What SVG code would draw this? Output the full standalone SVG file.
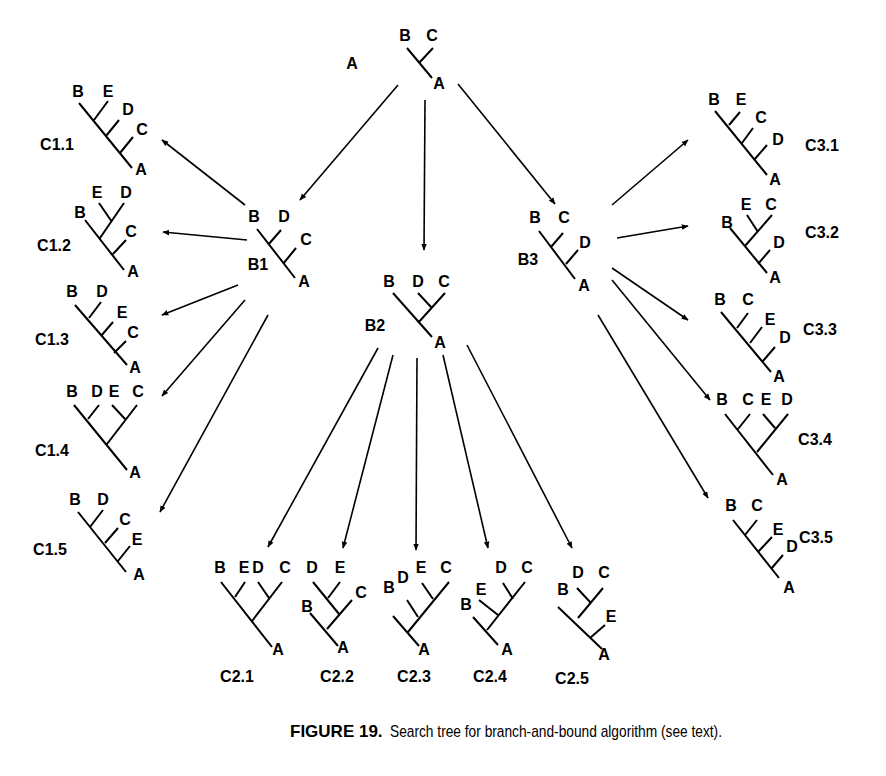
<svg xmlns="http://www.w3.org/2000/svg" width="886" height="776" viewBox="0 0 886 776">
<defs>
<marker id="ah" viewBox="0 0 10 10" refX="9" refY="5" markerWidth="7" markerHeight="7" orient="auto" markerUnits="userSpaceOnUse"><path d="M0,1 L10,5 L0,9 z" fill="#000"/></marker>
<style>
.t{stroke:#000;stroke-width:2;fill:none}
.c{stroke:#000;stroke-width:1.6;fill:none;marker-end:url(#ah)}
text{font-family:"Liberation Sans",Arial,sans-serif;font-size:16px;font-weight:bold;fill:#000;text-anchor:middle}
.cap{font-size:17px;font-weight:normal;text-anchor:start}
</style>
</defs>
<rect width="886" height="776" fill="#fff"/>
<g id="connectors">
<line class="c" x1="398" y1="85" x2="300" y2="200"/>
<line class="c" x1="425" y1="100" x2="424" y2="250"/>
<line class="c" x1="458" y1="84" x2="555" y2="204"/>
<line class="c" x1="245" y1="205" x2="162" y2="140"/>
<line class="c" x1="247" y1="240" x2="163" y2="232"/>
<line class="c" x1="238" y1="285" x2="162" y2="315"/>
<line class="c" x1="245" y1="300" x2="162" y2="396"/>
<line class="c" x1="268" y1="315" x2="160" y2="512"/>
<line class="c" x1="378" y1="348" x2="268" y2="547"/>
<line class="c" x1="393" y1="355" x2="343" y2="548"/>
<line class="c" x1="417" y1="358" x2="416" y2="550"/>
<line class="c" x1="443" y1="355" x2="488" y2="548"/>
<line class="c" x1="467" y1="345" x2="572" y2="548"/>
<line class="c" x1="612" y1="205" x2="688" y2="140"/>
<line class="c" x1="617" y1="238" x2="688" y2="226"/>
<line class="c" x1="612" y1="268" x2="688" y2="320"/>
<line class="c" x1="612" y1="280" x2="710" y2="400"/>
<line class="c" x1="598" y1="315" x2="708" y2="498"/>
</g>
<g id="A">
<text x="352" y="69">A</text>
<text x="405" y="41">B</text><text x="432" y="41">C</text><text x="439" y="89">A</text>
<path class="t" d="M407,48 L432,78 M433,48 L419,63"/>
</g>
<g id="B1">
<text x="254" y="222">B</text><text x="284" y="222">D</text><text x="306" y="245">C</text><text x="304" y="287">A</text><text x="258" y="270">B1</text>
<path class="t" d="M257,229 L295,278 M281,230 L268,245 M296,248 L283,264"/>
</g>
<g id="B2">
<text x="389" y="287">B</text><text x="418" y="287">D</text><text x="444" y="287">C</text><text x="440" y="348">A</text><text x="375" y="331">B2</text>
<path class="t" d="M393,293 L432,337 M418,293 L431,307 M445,293 L418,323"/>
</g>
<g id="B3">
<text x="535" y="223">B</text><text x="564" y="223">C</text><text x="585" y="248">D</text><text x="584" y="291">A</text><text x="528" y="265">B3</text>
<path class="t" d="M539,231 L575,279 M563,233 L551,247 M578,250 L566,264"/>
</g>
<g id="C1.1">
<text x="78" y="97">B</text><text x="108" y="97">E</text><text x="128" y="115">D</text><text x="142" y="135">C</text><text x="141" y="175">A</text><text x="57" y="150">C1.1</text>
<path class="t" d="M79,103 L132,168 M108,101 L94,120 M119,120 L106,136 M133,137 L120,153"/>
</g>
<g id="C1.2">
<text x="97" y="198">E</text><text x="126" y="198">D</text><text x="80" y="218">B</text><text x="131" y="237">C</text><text x="133" y="277">A</text><text x="54" y="251">C1.2</text>
<path class="t" d="M85,220 L124,270 M99,203 L112,222 M124,203 L100,238 M126,240 L113,254"/>
</g>
<g id="C1.3">
<text x="72" y="297">B</text><text x="102" y="297">D</text><text x="122" y="318">E</text><text x="133" y="338">C</text><text x="135" y="373">A</text><text x="52" y="345">C1.3</text>
<path class="t" d="M75,305 L127,365 M101,302 L89,318 M113,322 L101,336 M126,341 L114,353"/>
</g>
<g id="C1.4">
<text x="72" y="397">B</text><text x="97" y="397">D</text><text x="114" y="397">E</text><text x="138" y="397">C</text><text x="135" y="478">A</text><text x="52" y="456">C1.4</text>
<path class="t" d="M74,405 L127,470 M99,405 L88,419 M112,405 L125,419 M137,405 L107,444"/>
</g>
<g id="C1.5">
<text x="75" y="505">B</text><text x="103" y="505">D</text><text x="125" y="525">C</text><text x="137" y="545">E</text><text x="139" y="580">A</text><text x="50" y="555">C1.5</text>
<path class="t" d="M78,512 L126,572 M103,510 L90,527 M118,528 L105,543 M130,546 L118,561"/>
</g>
<g id="C2.1">
<text x="220" y="573">B</text><text x="244" y="573">E</text><text x="258" y="573">D</text><text x="285" y="573">C</text><text x="278" y="655">A</text><text x="237" y="682">C2.1</text>
<path class="t" d="M221,582 L272,647 M245,582 L235,597 M258,582 L269,598 M282,582 L252,621"/>
</g>
<g id="C2.2">
<text x="312" y="573">D</text><text x="340" y="573">E</text><text x="361" y="598">C</text><text x="307" y="612">B</text><text x="343" y="653">A</text><text x="337" y="682">C2.2</text>
<path class="t" d="M313,582 L339,614 M340,582 L328,598 M352,600 L327,629 M310,613 L338,646"/>
</g>
<g id="C2.3">
<text x="421" y="573">E</text><text x="446" y="573">C</text><text x="403" y="583">D</text><text x="389" y="593">B</text><text x="424" y="655">A</text><text x="414" y="682">C2.3</text>
<path class="t" d="M449,582 L408,632 M422,583 L433,599 M407,600 L418,617 M393,616 L419,646"/>
</g>
<g id="C2.4">
<text x="501" y="573">D</text><text x="527" y="573">C</text><text x="481" y="595">E</text><text x="466" y="610">B</text><text x="507" y="655">A</text><text x="490" y="682">C2.4</text>
<path class="t" d="M525,582 L487,630 M503,583 L513,599 M479,600 L498,615 M473,617 L498,645"/>
</g>
<g id="C2.5">
<text x="578" y="578">D</text><text x="604" y="578">C</text><text x="563" y="595">B</text><text x="611" y="622">E</text><text x="604" y="660">A</text><text x="572" y="684">C2.5</text>
<path class="t" d="M558,607 L602,649 M577,588 L590,602 M603,588 L578,618 M605,625 L590,638"/>
</g>
<g id="C3.1">
<text x="714" y="105">B</text><text x="741" y="105">E</text><text x="761" y="123">C</text><text x="778" y="145">D</text><text x="775" y="185">A</text><text x="822" y="151">C3.1</text>
<path class="t" d="M715,111 L767,175 M740,112 L729,125 M753,128 L742,143 M767,145 L754,160"/>
</g>
<g id="C3.2">
<text x="746" y="210">E</text><text x="771" y="210">C</text><text x="727" y="228">B</text><text x="779" y="248">D</text><text x="775" y="283">A</text><text x="822" y="238">C3.2</text>
<path class="t" d="M730,228 L767,273 M747,215 L758,232 M772,215 L745,246 M770,250 L758,264"/>
</g>
<g id="C3.3">
<text x="720" y="305">B</text><text x="748" y="305">C</text><text x="770" y="325">E</text><text x="785" y="343">D</text><text x="779" y="382">A</text><text x="820" y="335">C3.3</text>
<path class="t" d="M721,312 L771,372 M748,313 L737,328 M762,327 L750,343 M775,347 L763,361"/>
</g>
<g id="C3.4">
<text x="722" y="405">B</text><text x="748" y="405">C</text><text x="766" y="405">E</text><text x="787" y="405">D</text><text x="782" y="485">A</text><text x="815" y="445">C3.4</text>
<path class="t" d="M725,414 L773,475 M750,414 L738,429 M763,414 L775,428 M788,414 L757,452"/>
</g>
<g id="C3.5">
<text x="731" y="511">B</text><text x="757" y="511">C</text><text x="778" y="535">E</text><text x="792" y="552">D</text><text x="816" y="543">C3.5</text><text x="789" y="593">A</text>
<path class="t" d="M733,520 L779,578 M757,520 L745,535 M772,537 L758,552 M783,555 L771,569"/>
</g>
<text class="cap" x="290" y="737" font-weight="bold" style="font-weight:bold">FIGURE 19.</text>
<text class="cap" x="390" y="737" textLength="332" lengthAdjust="spacingAndGlyphs">Search tree for branch-and-bound algorithm (see text).</text>
</svg>
